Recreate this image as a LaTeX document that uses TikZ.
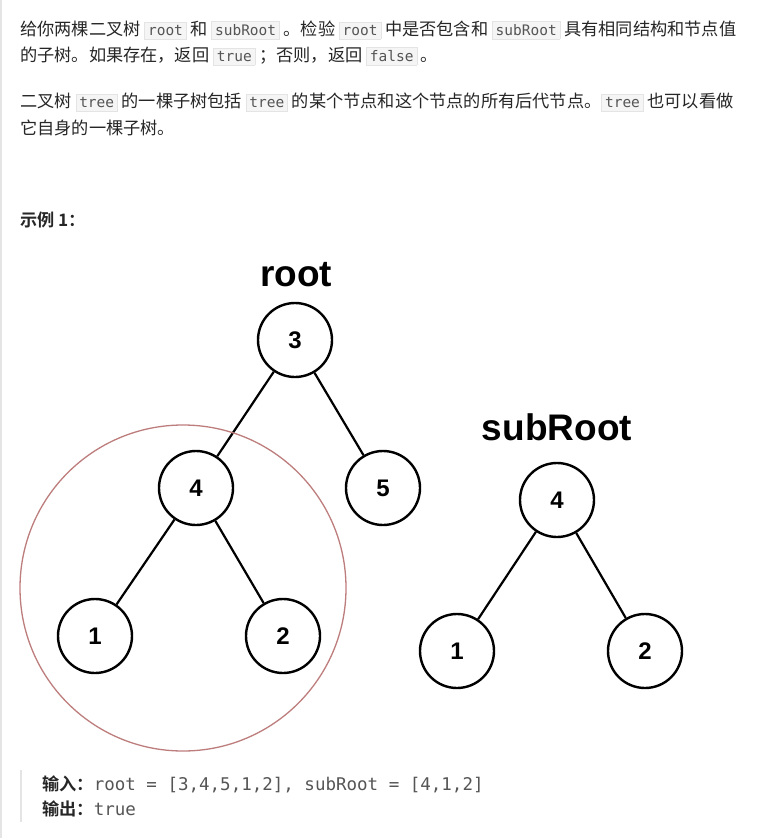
\documentclass[tikz,border=0pt]{standalone}
\usepackage{fontspec}
\setmainfont{Liberation Sans}
\newfontfamily\cjk{Noto Sans CJK SC}
\newfontfamily\cjkb{Noto Sans CJK SC}[BoldFont={* Bold}]
\newfontfamily\mono{DejaVu Sans Mono}
\definecolor{codebg}{RGB}{245,245,245}
\definecolor{codebd}{RGB}{228,228,228}
\definecolor{ring}{RGB}{190,125,125}
\definecolor{txt}{RGB}{38,38,38}
\definecolor{codetxt}{RGB}{85,85,85}
\newcommand\cd[1]{\setlength{\fboxsep}{3pt}\setlength{\fboxrule}{0.6pt}\fcolorbox{codebd}{codebg}{\mono\fontsize{14.5}{15}\selectfont\color{codetxt}#1}}
\begin{document}
\begin{tikzpicture}[x=1pt,y=-1pt,
  para/.style={anchor=west,inner sep=0,font=\cjk\fontsize{17.2}{19}\selectfont,text=txt},
  tn/.style={circle,draw,line width=2.4pt,minimum size=74pt,inner sep=0,font=\bfseries\fontsize{24}{24}\selectfont},
  tl/.style={font=\bfseries\fontsize{37}{37}\selectfont},
  edge/.style={line width=2.2pt}]
\useasboundingbox (0,0) rectangle (777,838);
\fill[white] (0,0) rectangle (777,838);
\draw[codebd,line width=1.5pt] (1,0) -- (1,838);
\node[para] (l1) at (20,30) {给你两棵二叉树 \cd{root} 和 \cd{subRoot} 。检验 \cd{root} 中是否包含和 \cd{subRoot} 具有相同结构和节点值};
\node[para] (l2) at (20,56) {的子树。如果存在，返回 \cd{true} ；否则，返回 \cd{false} 。};
\node[para] (l3) at (20,102) {二叉树 \cd{tree} 的一棵子树包括 \cd{tree} 的某个节点和这个节点的所有后代节点。\cd{tree} 也可以看做};
\node[para] (l4) at (20,128) {它自身的一棵子树。};
\node[para,font=\cjkb\bfseries\fontsize{17.2}{19}\selectfont] (ex) at (20,220) {示例 1：};
\node[tl] (rl) at (296,275) {root};
\node[tl] (sl) at (557,427) {subRoot};
\node[tn] (a3) at (295,340) {3};
\node[tn] (a4) at (196,488) {4};
\node[tn] (a5) at (383,488) {5};
\node[tn] (a1) at (95,636) {1};
\node[tn] (a2) at (283,636) {2};
\node[tn] (b4) at (557,500) {4};
\node[tn] (b1) at (457,651) {1};
\node[tn] (b2) at (645,651) {2};
\draw[edge] (a3)--(a4); \draw[edge] (a3)--(a5);
\draw[edge] (a4)--(a1); \draw[edge] (a4)--(a2);
\draw[edge] (b4)--(b1); \draw[edge] (b4)--(b2);
\node[circle,draw=ring,line width=1.3pt,minimum size=326pt,inner sep=0] (ring) at (183,588) {};
\draw[codebd,line width=2.5pt] (21,770) -- (21,822);
\node[para] (in) at (42,784) {{\cjkb\bfseries 输入：}{\mono\fontsize{17.5}{19}\selectfont\color{codetxt}root = [3,4,5,1,2], subRoot = [4,1,2]}};
\node[para] (out) at (42,809) {{\cjkb\bfseries 输出：}{\mono\fontsize{17.5}{19}\selectfont\color{codetxt}true}};
\end{tikzpicture}
\end{document}
